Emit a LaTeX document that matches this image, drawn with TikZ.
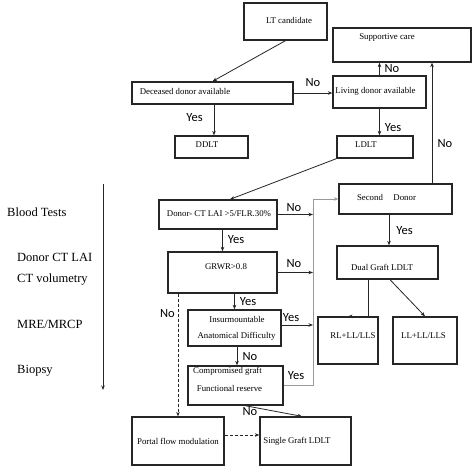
\documentclass[tikz,border=0pt]{standalone}
\usepackage{fontspec}
\setmainfont{Liberation Serif}
\newfontfamily\lblfont{Carlito}
\usetikzlibrary{arrows.meta,calc}
\begin{document}
\begin{tikzpicture}[x=1pt,y=-1pt,
  box/.style={draw=black!85,line width=1.3pt,inner sep=0pt},
  btxt/.style={font=\fontsize{8.8}{10}\selectfont,inner sep=0pt,align=center},
  yn/.style={font=\lblfont\fontsize{12.5}{13}\selectfont,inner sep=0pt},
  side/.style={font=\fontsize{12.5}{14}\selectfont,inner sep=0pt,anchor=base west},
  arr/.style={draw=black!85,line width=0.8pt,-{Stealth[length=4.5pt,width=3.5pt]}},
  ln/.style={draw=black!85,line width=0.8pt},
  garr/.style={draw=black!40,line width=0.8pt,-{Stealth[length=4.5pt,width=3.5pt]}},
  darr/.style={draw=black!85,line width=0.8pt,dashed,dash pattern=on 3pt off 2pt,-{Stealth[length=4.5pt,width=3.5pt]}}]
\useasboundingbox (0,0) rectangle (474,466);
\fill[white] (0,0) rectangle (474,466);
% boxes
\node[box,minimum width=83pt,minimum height=37pt] (lt) at (285.5,21.5) {};
\node[box,minimum width=138pt,minimum height=34pt] (sc) at (402,45) {};
\node[box,minimum width=161pt,minimum height=22pt] (dd) at (212.5,93) {};
\node[box,minimum width=93pt,minimum height=32pt] (ld) at (379.5,92) {};
\node[box,minimum width=73pt,minimum height=22pt] (ddlt) at (211.5,147) {};
\node[box,minimum width=76pt,minimum height=22pt] (ldlt) at (375,147) {};
\node[box,minimum width=113pt,minimum height=30pt] (sd) at (395.5,199) {};
\node[box,minimum width=118pt,minimum height=29pt] (ct) at (218,214.5) {};
\node[box,minimum width=109pt,minimum height=41pt] (gr) at (222.5,272.5) {};
\node[box,minimum width=101pt,minimum height=33pt] (dg) at (387.5,262.5) {};
\node[box,minimum width=93pt,minimum height=36pt] (ins) at (234.5,328) {};
\node[box,minimum width=60pt,minimum height=47pt] (rl) at (348,340.5) {};
\node[box,minimum width=64pt,minimum height=47pt] (ll) at (425,340.5) {};
\node[box,minimum width=95pt,minimum height=39pt] (cg) at (235.5,385.5) {};
\node[box,minimum width=92pt,minimum height=48pt] (pf) at (178,441) {};
\node[box,minimum width=91pt,minimum height=48pt] (sg) at (305.5,441) {};
% box texts
\node[btxt] (tlt) at (289,20) {LT candidate};
\node[btxt] (tsc) at (387,38) {Supportive care};
\node[btxt] (tdd) at (185,91) {Deceased donor available};
\node[btxt] (tld) at (375.5,91) {Living donor available};
\node[btxt] (tddlt) at (207,145) {DDLT};
\node[btxt] (tldlt) at (366,145) {LDLT};
\node[btxt] (tsd) at (386.5,197) {Second\hspace{1.2em}Donor};
\node[btxt] (tct) at (219,214) {Donor- CT LAI >5/FLR.30\%};
\node[btxt] (tgr) at (226,267) {GRWR>0.8};
\node[btxt] (tdg) at (382,267) {Dual Graft LDLT};
\node[btxt] (tins1) at (237,319) {Insurmountable};
\node[btxt] (tins2) at (236.5,336) {Anatomical Difficulty};
\node[btxt] (trl) at (353,336) {RL+LL/LLS};
\node[btxt] (tll) at (423.5,336) {LL+LL/LLS};
\node[btxt] (tcg1) at (227.5,371) {Compromised graft};
\node[btxt] (tcg2) at (229.5,388) {Functional reserve};
\node[btxt] (tpf) at (178,441) {Portal flow modulation};
\node[btxt] (tsg) at (297,441) {Single Graft LDLT};
% junction column
\coordinate (jtop) at (313,199);
\coordinate (jbot) at (313,385.5);
% connectors
\draw[arr] (lt.south) -- (dd.north);
\draw[arr] (dd.east) -- (dd.east -| ld.west);
\draw[arr] (ld.north) -- (ld.north |- sc.south);
\draw[arr] (ld.south) -- (ld.south |- ldlt.north);
\draw[arr] ([xshift=1.5pt]dd.south) -- ([xshift=1.5pt]dd.south |- ddlt.north);
\draw[arr] ([xshift=36.5pt]sd.north) -- ([xshift=36.5pt]sd.north |- sc.south);
\draw[arr] (ldlt.south west) -- ([xshift=12pt]ct.north);
\draw[arr] (ct.east) -- (ct.east -| jtop);
\draw[arr] (gr.east) -- (gr.east -| jtop);
\draw[arr] ([yshift=3pt]ins.east) -- ([yshift=3pt]ins.east -| jtop);
\draw[garr] (cg.east) -- (jbot) -- (jtop) -- (sd.west);
\draw[arr] (ct.south -| gr.north) -- (gr.north);
\draw[arr] (gr.south -| ins.north) -- (ins.north);
\draw[darr] (gr.south -| pf.north) -- (pf.north);
\draw[arr] ([xshift=2.5pt]ins.south) -- ([xshift=2.5pt]ins.south |- cg.north);
\draw[arr] ([xshift=9.5pt]cg.south) -- ([xshift=-3.5pt]sg.north);
\draw[darr] ([yshift=6pt]pf.east) -- ([yshift=6pt]sg.west);
\draw[arr] ([xshift=-6.5pt]sd.south) -- ([xshift=-6.5pt]sd.south |- dg.north);
\draw[arr] ([xshift=-19.5pt]dg.south) |- (rl.north);
\draw[arr] ([xshift=2.5pt]dg.south) -- (ll.north);
% yes / no labels
\node[yn] (n1) at (313,83) {No};
\node[yn] (y1) at (194.5,117.5) {Yes};
\node[yn] (n2) at (392,69) {No};
\node[yn] (y2) at (393,127.5) {Yes};
\node[yn] (n3) at (445,144) {No};
\node[yn] (n4) at (294,207.5) {No};
\node[yn] (y3) at (236,240) {Yes};
\node[yn] (n5) at (294,263.5) {No};
\node[yn] (y4) at (404.5,230.5) {Yes};
\node[yn] (y5) at (248,301.5) {Yes};
\node[yn] (n6) at (167.5,314) {No};
\node[yn] (y6) at (291,318) {Yes};
\node[yn] (n7) at (250,357) {No};
\node[yn] (y7) at (296,376) {Yes};
\node[yn] (n8) at (250,411.5) {No};
% side panel
\coordinate (stop) at (103,184);
\coordinate (sbot) at (103,390);
\draw[arr,line width=1pt] (stop) -- (sbot);
\node[side] (s1) at (7,216.5) {Blood Tests};
\node[side] (s2) at (17,261.5) {Donor CT LAI};
\node[side] (s3) at (17,282.5) {CT volumetry};
\node[side] (s4) at (17,328.3) {MRE/MRCP};
\node[side] (s5) at (17,373.3) {Biopsy};
\end{tikzpicture}
\end{document}
